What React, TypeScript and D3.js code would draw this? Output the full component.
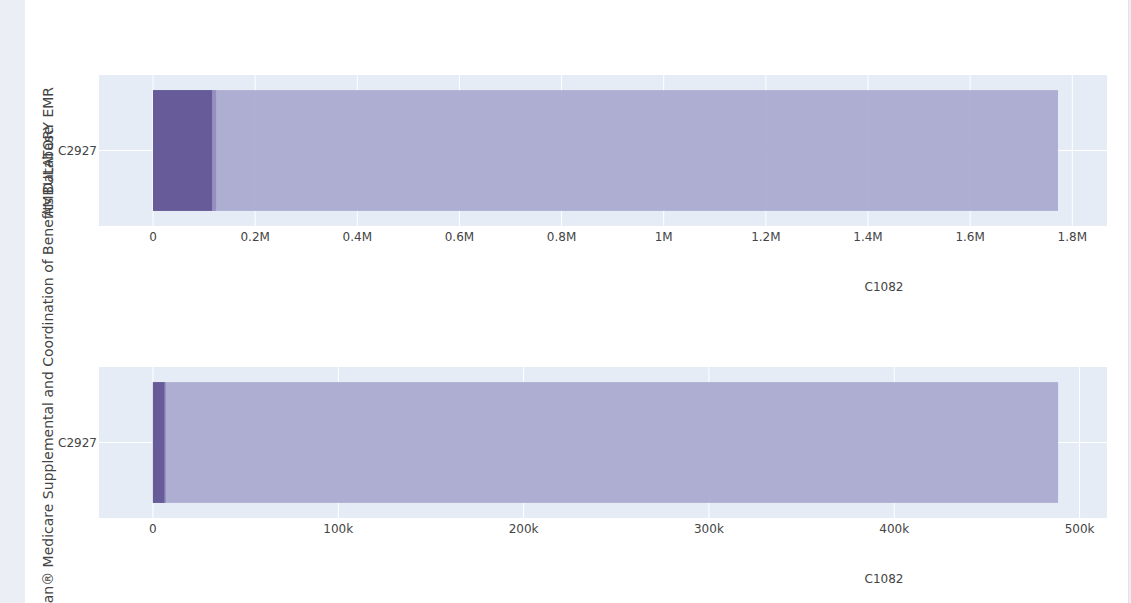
import React from "react";
import * as d3 from "d3";

const categories = ["C2927"];
const panelTitles = [
  "AMBULATORY EMR",
  "MarketScan® Medicare Supplemental and Coordination of Benefits Database",
];
const xAxisTitle = "C1082";

// series values for each panel: [largest, middle, smallest]
const topValues = [1772000, 123400, 115600];
const bottomValues = [488400, 7000, 6200];

const topTicks = [0, 200000, 400000, 600000, 800000, 1000000, 1200000, 1400000, 1600000, 1800000];
const topTickLabels = ["0", "0.2M", "0.4M", "0.6M", "0.8M", "1M", "1.2M", "1.4M", "1.6M", "1.8M"];
const bottomTicks = [0, 100000, 200000, 300000, 400000, 500000];
const bottomTickLabels = ["0", "100k", "200k", "300k", "400k", "500k"];

const topDomain = [-105800, 1868000];
const bottomDomain = [-29100, 514800];

const FONT = '"DejaVu Sans", Verdana, sans-serif';
const barColors = ["#a7a6ce", "#938cbc", "#625695"];
const barOpacity = 0.9;

type PanelProps = {
  top: number;
  values: number[];
  domain: number[];
  ticks: number[];
  tickLabels: string[];
};

const X0 = 99;
const X1 = 1107;
const PH = 151;

function Panel({ top, values, domain, ticks, tickLabels }: PanelProps) {
  const x = d3.scaleLinear().domain(domain).range([X0, X1]);
  const y = d3
    .scaleBand()
    .domain(categories)
    .range([top, top + PH])
    .paddingInner(0.2)
    .paddingOuter(0.1);
  const yc = (c: string) => (y(c) as number) + y.bandwidth() / 2;
  return (
    <g>
      <rect x={X0} y={top} width={X1 - X0} height={PH} fill="#e5ecf6" />
      {ticks.map((t) => (
        <line key={t} x1={x(t)} x2={x(t)} y1={top} y2={top + PH} stroke="#fff" strokeWidth={1} />
      ))}
      {categories.map((c) => (
        <line key={c} x1={X0} x2={X1} y1={yc(c)} y2={yc(c)} stroke="#fff" strokeWidth={1} />
      ))}
      {categories.map((c) =>
        values.map((v, i) => (
          <rect
            key={c + i}
            x={x(0)}
            y={y(c)}
            width={x(v) - x(0)}
            height={y.bandwidth()}
            fill={barColors[i]}
            fillOpacity={barOpacity}
          />
        ))
      )}
      {ticks.map((t, i) => (
        <text
          key={"l" + t}
          x={x(t)}
          y={top + PH + 15}
          textAnchor="middle"
          fontSize={12}
          fill="#444"
          fontFamily={FONT}
        >
          {tickLabels[i]}
        </text>
      ))}
      {categories.map((c) => (
        <text
          key={"c" + c}
          x={97}
          y={yc(c) + 4}
          textAnchor="end"
          fontSize={12}
          fill="#444"
          fontFamily={FONT}
        >
          {c}
        </text>
      ))}
      <text x={884} y={top + 216} textAnchor="middle" fontSize={12} fill="#444" fontFamily={FONT}>
        {xAxisTitle}
      </text>
    </g>
  );
}

export default function App() {
  return (
    <div style={{ position: "absolute", left: 0, top: 0, width: 1131, height: 603, overflow: "hidden" }}>
      <svg width={1131} height={603} style={{ display: "block" }}>
        <rect x={0} y={0} width={1131} height={603} fill="#ebeef4" />
        <rect x={25} y={0} width={1103} height={603} fill="#ffffff" />
        <line x1={1128.5} x2={1128.5} y1={0} y2={603} stroke="#e0e4ea" />
        <Panel top={75} values={topValues} domain={topDomain} ticks={topTicks} tickLabels={topTickLabels} />
        <Panel top={367} values={bottomValues} domain={bottomDomain} ticks={bottomTicks} tickLabels={bottomTickLabels} />
        <text
          transform={`translate(53,152) rotate(-90)`}
          textAnchor="middle"
          fontSize={14}
          fill="#444"
          fontFamily={FONT}
        >
          {panelTitles[0]}
        </text>
        <text
          transform={`translate(53,668) rotate(-90)`}
          textAnchor="start"
          fontSize={14}
          fill="#444"
          fontFamily={FONT}
        >
          {panelTitles[1]}
        </text>
      </svg>
    </div>
  );
}
